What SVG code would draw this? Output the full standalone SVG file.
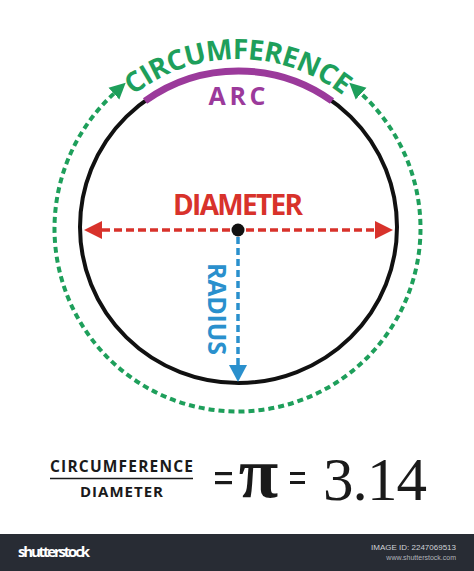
<svg xmlns="http://www.w3.org/2000/svg" width="474" height="571" viewBox="0 0 474 571">
<style>
.lbl{font-family:"Open Sans","Liberation Sans",sans-serif;font-weight:bold}
.green{fill:#1E9F5B}
.serif{font-family:"Liberation Serif","Times New Roman",serif}
</style>
<defs>
<marker id="ag" markerUnits="userSpaceOnUse" markerWidth="20" markerHeight="20" refX="0" refY="8" viewBox="0 0 20 16" orient="auto-start-reverse"><path d="M0,0 L16,8 L0,16 z" fill="#1E9F5B"/></marker>
<marker id="ar" markerUnits="userSpaceOnUse" markerWidth="20" markerHeight="20" refX="0" refY="9" viewBox="0 0 20 18" orient="auto-start-reverse"><path d="M0,0 L18,9 L0,18 z" fill="#D8322B"/></marker>
<marker id="ab" markerUnits="userSpaceOnUse" markerWidth="20" markerHeight="20" refX="0" refY="9" viewBox="0 0 20 18" orient="auto"><path d="M0,0 L17,9 L0,18 z" fill="#2A90CD"/></marker>
<path id="circPath" d="M69,228 A169,169 0 0 1 407,228"/>
</defs>
<rect width="474" height="571" fill="#ffffff"/>
<g id="circle">
<ellipse cx="238.5" cy="227" rx="158.5" ry="156" fill="none" stroke="#111" stroke-width="4"/>
</g>
<g id="arc">
<path d="M145,101 A158.5,156 0 0 1 332,101" fill="none" stroke="#9B3A9B" stroke-width="7"/>
<text class="lbl" x="237" y="105" font-size="25" fill="#9B3A9B" text-anchor="middle" textLength="57">ARC</text>
</g>
<g id="connectors">
<path d="M113.9,93.6 A183,183 0 1 0 361.1,93.6" fill="none" stroke="#1E9F5B" stroke-width="4" stroke-dasharray="6 4" marker-start="url(#ag)" marker-end="url(#ag)"/>
<line x1="102" y1="230" x2="375" y2="230" stroke="#D8322B" stroke-width="3.5" stroke-dasharray="8 4" marker-start="url(#ar)" marker-end="url(#ar)"/>
<line x1="238" y1="237" x2="238" y2="365" stroke="#2A90CD" stroke-width="3.5" stroke-dasharray="7 4" marker-end="url(#ab)"/>
</g>
<g id="circumference">
<text class="lbl green" font-size="28"><textPath href="#circPath" startOffset="50%" text-anchor="middle" textLength="226">CIRCUMFERENCE</textPath></text>
</g>
<g id="diameter">
<text class="lbl" x="238" y="215" font-size="28" fill="#D8322B" text-anchor="middle" textLength="130">DIAMETER</text>
</g>
<g id="center">
<circle cx="238" cy="230" r="6.5" fill="#111"/>
</g>
<g id="radius">
<text class="lbl" transform="translate(208,263) rotate(90)" x="0" y="0" font-size="25" fill="#2A90CD" textLength="92">RADIUS</text>
</g>
<g id="formula">
<text class="lbl" x="121.5" y="472" font-size="15.5" fill="#1a1a1a" text-anchor="middle" textLength="143">CIRCUMFERENCE</text>
<line x1="50" y1="478.5" x2="193" y2="478.5" stroke="#1a1a1a" stroke-width="1.5"/>
<text class="lbl" x="121.5" y="497" font-size="15" fill="#1a1a1a" text-anchor="middle" textLength="83">DIAMETER</text>
<rect x="215" y="472" width="17" height="3.2" fill="#1a1a1a"/>
<rect x="215" y="481" width="17" height="3.2" fill="#1a1a1a"/>
<text class="serif" x="258.5" y="497" font-size="72" font-weight="bold" fill="#1a1a1a" text-anchor="middle">π</text>
<rect x="290" y="472" width="15" height="3" fill="#1a1a1a"/>
<rect x="290" y="481" width="15" height="3" fill="#1a1a1a"/>
<text class="serif" x="323" y="500" font-size="61" fill="#1a1a1a" textLength="104">3.14</text>
</g>
<g id="footer">
<rect x="0" y="534" width="474" height="37" fill="#282C34"/>
<text x="18" y="557" font-family="'Open Sans','Liberation Sans',sans-serif" font-weight="bold" font-size="15" fill="#ffffff" textLength="72">shutterstock</text>
<text x="456" y="550" font-family="'Liberation Sans',sans-serif" font-size="8" fill="#d0d3d8" text-anchor="end">IMAGE ID: 2247069513</text>
<text x="456" y="560" font-family="'Liberation Sans',sans-serif" font-size="7" fill="#b0b4ba" text-anchor="end">www.shutterstock.com</text>
</g>
</svg>
